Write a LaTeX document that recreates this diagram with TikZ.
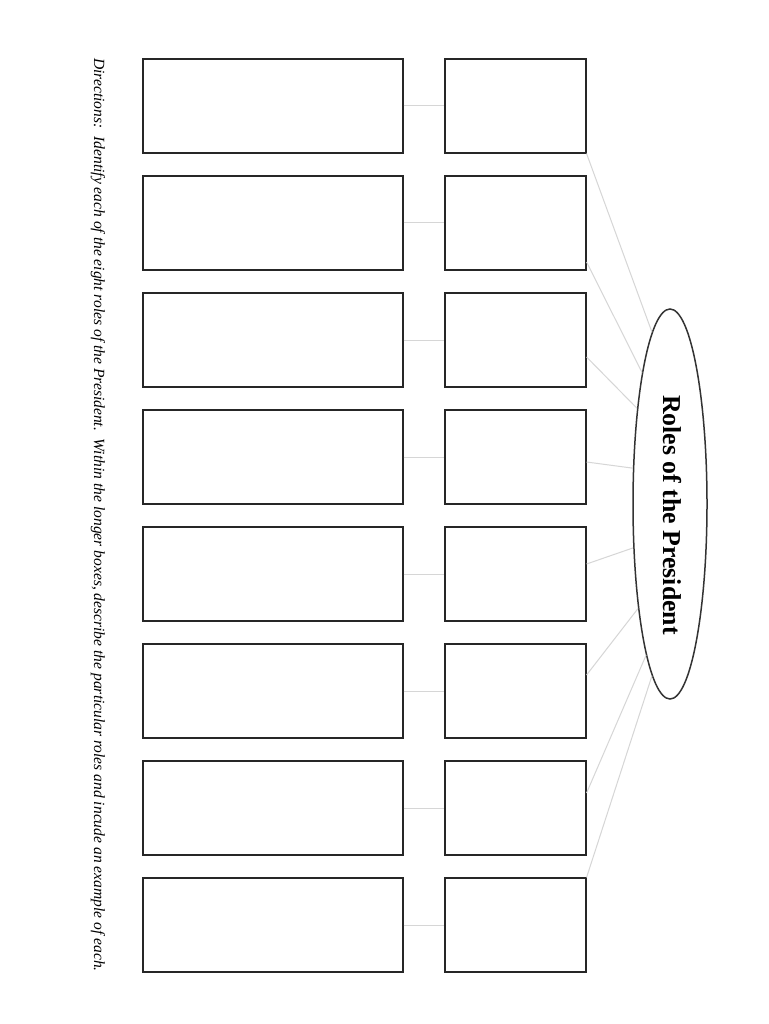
\documentclass[tikz,border=0pt]{standalone}
\usepackage{fontspec}
\setmainfont{Liberation Serif}
\usetikzlibrary{shapes.geometric,calc}
\tikzset{
  longbox/.style={draw=black!85, line width=1.1pt, minimum width=260pt, minimum height=94pt, inner sep=0pt},
  shortbox/.style={draw=black!85, line width=1.1pt, minimum width=141pt, minimum height=94pt, inner sep=0pt},
  link/.style={draw=black!16, line width=1pt},
  hub/.style={ellipse, draw=black!80, line width=1.5pt, minimum width=74pt, minimum height=390pt, inner sep=0pt},
}
\begin{document}
\begin{tikzpicture}[x=1pt,y=-1pt]
\useasboundingbox[fill=white] (0,0) rectangle (768,1024);
% directions
\node[rotate=-90, font=\fontsize{15.55}{18}\selectfont\itshape, inner sep=0pt] (dir) at (98,515)
  {Directions:\ \ Identify each of the eight roles of the President.\ \ Within the longer boxes, describe the particular roles and incude an example of each.};
% hub
\node[hub] (ell) at (670,504) {};
\node[rotate=-90, font=\fontsize{25.8}{30}\selectfont\bfseries, inner sep=0pt] (title) at (672,515) {Roles of the President};
% boxes
\foreach \i in {1,...,8}{
  \node[longbox] (L\i) at (273,{106+117*(\i-1)}) {};
  \node[shortbox] (R\i) at (515.5,{106+117*(\i-1)}) {};
  \draw[link] (L\i.east) -- (R\i.west);
}
% start points on short boxes
\coordinate (s1) at (R1.south east);
\coordinate (s2) at ($(R2.east)+(0,39)$);
\coordinate (s3) at ($(R3.east)+(0,17)$);
\coordinate (s4) at ($(R4.east)+(0,5)$);
\coordinate (s5) at ($(R5.east)+(0,-10)$);
\coordinate (s6) at ($(R6.east)+(0,-16)$);
\coordinate (s7) at ($(R7.east)+(0,-15)$);
\coordinate (s8) at (R8.north east);
\draw[link] (s1) -- (ell.96.7);
\draw[link] (s2) -- (ell.102);
\draw[link] (s3) -- (ell.109.3);
\draw[link] (s4) -- (ell.136.6);
\draw[link] (s5) -- (ell.230.6);
\draw[link] (s6) -- (ell.253.2);
\draw[link] (s7) -- (ell.261.9);
\draw[link] (s8) -- (ell.264.2);
\end{tikzpicture}
\end{document}
